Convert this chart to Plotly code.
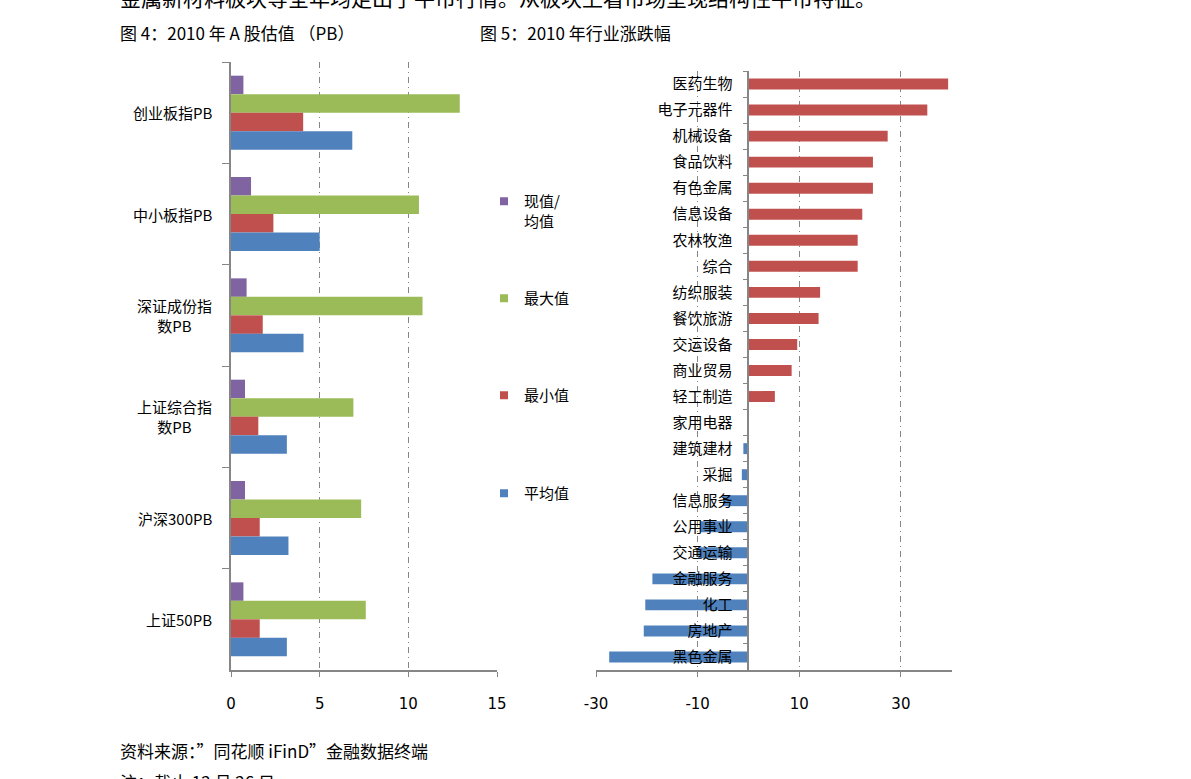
import plotly.graph_objects as go

W, H = 1191, 779

# ---------------- data ----------------
pb_categories = ["创业板指PB", "中小板指PB", "深证成份指数PB", "上证综合指数PB", "沪深300PB", "上证50PB"]
pb_label_text = ["创业板指PB", "中小板指PB", "深证成份指<br>数PB", "上证综合指<br>数PB", "沪深300PB", "上证50PB"]
pb_series_names = ["现值/<br>均值", "最大值", "最小值", "平均值"]
pb_ratio = [0.7, 1.13, 0.88, 0.79, 0.79, 0.7]
pb_max = [12.9, 10.6, 10.8, 6.9, 7.34, 7.6]
pb_min = [4.07, 2.39, 1.79, 1.54, 1.62, 1.62]
pb_avg = [6.84, 5.0, 4.09, 3.15, 3.24, 3.15]

ind_categories = ["医药生物", "电子元器件", "机械设备", "食品饮料", "有色金属", "信息设备",
                  "农林牧渔", "综合", "纺织服装", "餐饮旅游", "交运设备", "商业贸易",
                  "轻工制造", "家用电器", "建筑建材", "采掘", "信息服务", "公用事业",
                  "交通运输", "金融服务", "化工", "房地产", "黑色金属"]
ind_change = [39.3, 35.2, 27.4, 24.5, 24.5, 22.4, 21.5, 21.5, 14.1, 13.8, 9.6, 8.5,
              5.2, 0.0, -1.0, -1.3, -5.0, -9.5, -9.9, -18.9, -20.3, -20.6, -27.4]

left_ticks = [0, 5, 10, 15]
right_ticks = [-30, -10, 10, 30]

# ---------------- styles ----------------
C_PURPLE, C_GREEN, C_RED, C_BLUE = "#8064A2", "#9BBB59", "#C0504D", "#4F81BD"
AX = "#868686"
CJK = "Noto Sans CJK SC"
NUM = "DejaVu Sans"


def px(x):
    return x / W


def py(y):
    return 1 - y / H


fig = go.Figure()

series = [pb_ratio, pb_max, pb_min, pb_avg]
colors = [C_PURPLE, C_GREEN, C_RED, C_BLUE]
legends = ["legend", "legend2", "legend3", "legend4"]
for name, vals, col, lg in zip(pb_series_names, series, colors, legends):
    fig.add_trace(go.Bar(x=vals, y=pb_categories, orientation="h", name=name,
                         marker=dict(color=col, line=dict(width=0)),
                         showlegend=False, xaxis="x", yaxis="y"))
    # legend proxy with a small square symbol
    fig.add_trace(go.Scatter(x=[None], y=[None], mode="markers", name=name,
                             marker=dict(symbol="square", size=8, color=col),
                             legend=lg, xaxis="x", yaxis="y"))

bar_colors = [C_RED if v >= 0 else C_BLUE for v in ind_change]
fig.add_trace(go.Bar(x=ind_change, y=ind_categories, orientation="h", width=0.42,
                     marker=dict(color=bar_colors, line=dict(width=0)),
                     showlegend=False, xaxis="x2", yaxis="y2"))

tickfont = dict(family=NUM, size=15, color="#000")
grid = dict(showgrid=True, gridcolor=AX, gridwidth=1, griddash="6px,4px,1px,4px")

left_dom = [px(231), px(497)]
right_dom = [px(596), px(951.7)]
ydom_left = [py(670), py(62)]
ydom_right = [py(670), py(71)]

fig.update_layout(
    width=W, height=H, margin=dict(l=0, r=0, t=0, b=0, autoexpand=False),
    paper_bgcolor="white", plot_bgcolor="rgba(0,0,0,0)",
    barmode="group", bargap=0.27,
    xaxis=dict(domain=left_dom, range=[0, 15], tickvals=left_ticks,
               ticktext=[str(t) for t in left_ticks], anchor="y", automargin=False,
               showline=True, linecolor=AX, linewidth=1.5, ticks="outside",
               ticklen=5, tickcolor=AX, tickfont=tickfont, zeroline=False,
               ticklabelstandoff=14, **grid),
    yaxis=dict(domain=ydom_left, type="category", categoryorder="array",
               categoryarray=pb_categories, autorange="reversed", anchor="x",
               automargin=False,
               showline=True, linecolor=AX, linewidth=1.5, ticks="outside",
               tickson="boundaries", ticklen=7, tickcolor=AX,
               showticklabels=False, showgrid=False),
    xaxis2=dict(domain=right_dom, range=[-30, 40], tickvals=right_ticks,
                ticktext=[str(t) for t in right_ticks], anchor="y2", automargin=False,
                showline=True, linecolor=AX, linewidth=1.5, ticks="outside",
                ticklen=5, tickcolor=AX, tickfont=tickfont, zeroline=False,
                ticklabelstandoff=14, **grid),
    yaxis2=dict(domain=ydom_right, type="category", categoryorder="array",
                categoryarray=ind_categories, autorange="reversed",
                anchor="free", position=px(748.3), automargin=False,
                showline=True, linecolor=AX, linewidth=1.5, ticks="outside",
                tickson="boundaries", ticklen=5, tickcolor=AX,
                tickfont=dict(family=CJK, size=15, color="#000"),
                ticklabelstandoff=12, showgrid=False),
    font=dict(family=CJK, color="#000"),
)

# legends
leg_common = dict(xanchor="left", yanchor="top", bgcolor="rgba(0,0,0,0)",
                  borderwidth=0, valign="top",
                  font=dict(family=CJK, size=15, color="#000"),
                  itemwidth=30)
fig.update_layout(
    legend=dict(x=px(484), y=py(185), **leg_common),
    legend2=dict(x=px(484), y=py(282), **leg_common),
    legend3=dict(x=px(484), y=py(379), **leg_common),
    legend4=dict(x=px(484), y=py(477), **leg_common),
)

ann = []
# left category labels
for cat, lab in zip(pb_categories, pb_label_text):
    ann.append(dict(x=px(214), y=cat, xref="paper", yref="y", text=lab,
                    xanchor="right", yanchor="middle", align="center",
                    showarrow=False, font=dict(family=CJK, size=15, color="#000")))
# titles and notes
ann.append(dict(x=px(118), y=py(-3), xref="paper", yref="paper", xanchor="left",
                yanchor="middle", showarrow=False,
                text="金属新材料板块等全年均走出了牛市行情。从板块上看市场呈现结构性牛市特征。",
                font=dict(family=CJK, size=21, color="#000")))
ann.append(dict(x=px(118), y=py(32), xref="paper", yref="paper", xanchor="left",
                yanchor="middle", showarrow=False, text="图 4：2010 年 A 股估值 （PB）",
                font=dict(family=CJK, size=17, color="#000")))
ann.append(dict(x=px(478), y=py(32), xref="paper", yref="paper", xanchor="left",
                yanchor="middle", showarrow=False, text="图 5：2010 年行业涨跌幅",
                font=dict(family=CJK, size=17, color="#000")))
ann.append(dict(x=px(118), y=py(750), xref="paper", yref="paper", xanchor="left",
                yanchor="middle", showarrow=False, text="资料来源：”同花顺 iFinD”金融数据终端",
                font=dict(family=CJK, size=17, color="#000")))
ann.append(dict(x=px(118), y=py(781), xref="paper", yref="paper", xanchor="left",
                yanchor="middle", showarrow=False, text="注：截止 12 月 26 日",
                font=dict(family=CJK, size=17, color="#000")))
fig.update_layout(annotations=ann)

fig.write_html("out.html")
